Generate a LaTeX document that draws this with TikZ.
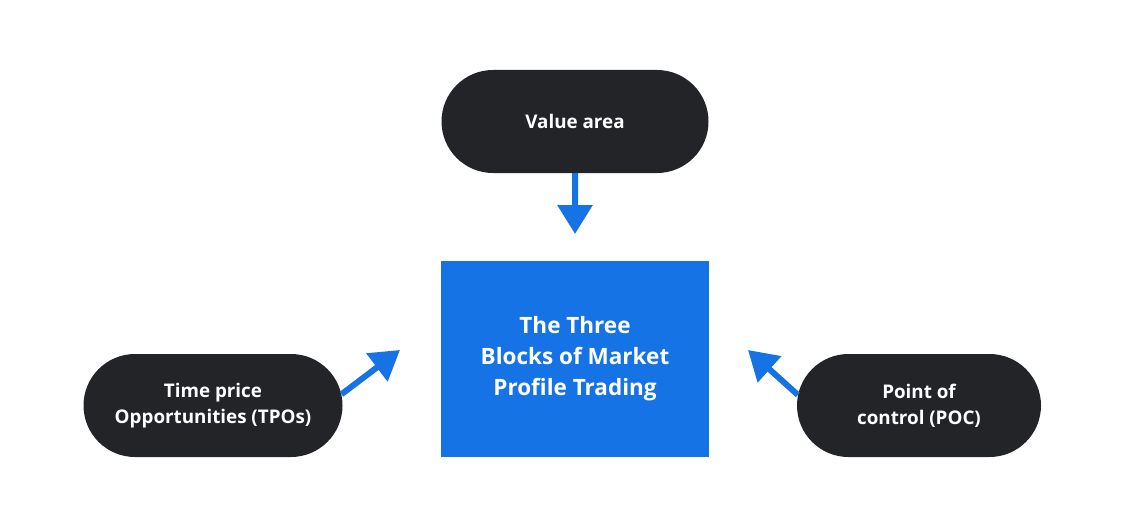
\documentclass[tikz,border=0pt]{standalone}
\usepackage{fontspec}
\setmainfont{Open Sans}
\usetikzlibrary{arrows.meta}
\usetikzlibrary{shapes.misc}
\definecolor{pilldark}{HTML}{222428}
\definecolor{blockblue}{HTML}{1573E5}

\begin{document}
\begin{tikzpicture}[x=1pt, y=-1pt,
        pill/.style={rounded rectangle, fill=pilldark, text=white, font=\bfseries\fontsize{18.8}{26}\selectfont, align=center, inner sep=0pt},
        arrowline/.style={draw=blockblue, line width=6pt, -{Triangle[width=34pt,length=29pt]}}]
        \useasboundingbox[fill=white] (0,0) rectangle (1124,527);

        \node[fill=blockblue, text=white, minimum width=268pt, minimum height=196pt, inner sep=0pt, align=center, font=\bfseries\fontsize{22.5}{31}\selectfont] (blocks) at (575,359) {The Three\\Blocks of Market\\Profile Trading};

        \node[pill, minimum width=267pt, minimum height=103pt] (va) at (575,121.5) {Value area};
        \node[pill, minimum width=259pt, minimum height=103pt] (tpo) at (213,405.5) {Time price\\Opportunities (TPOs)};
        \node[pill, minimum width=244pt, minimum height=103pt] (poc) at (919,405.5) {Point of\\control (POC)};

        \coordinate (vatip) at (575,234);
        \coordinate (tpotip) at (400,350);
        \coordinate (poctip) at (748,350);

        \draw[arrowline] (va) -- (vatip);
        \draw[arrowline] (tpo.5) -- (tpotip);
        \draw[arrowline] (poc.175) -- (poctip);
\end{tikzpicture}
\end{document}
